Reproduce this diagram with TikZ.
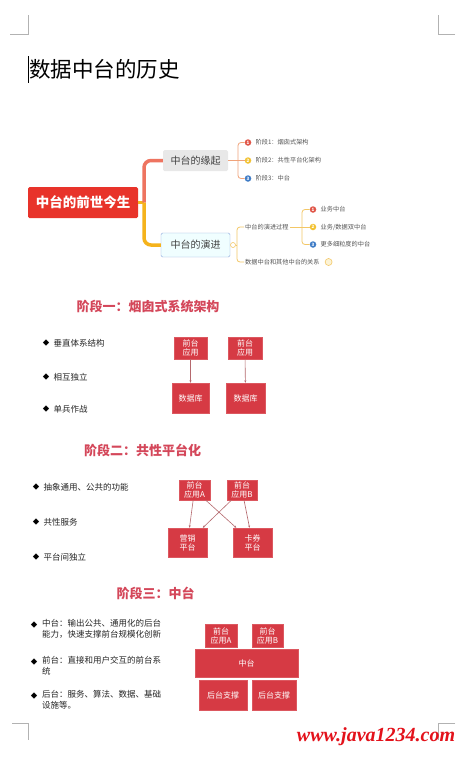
\documentclass[tikz,border=0pt]{standalone}
\usepackage{fontspec}
\setmainfont{Noto Sans CJK SC}
\newfontfamily\wmfont{Liberation Serif}
\usepackage{tikz}
\usetikzlibrary{arrows.meta, positioning}
\definecolor{boxred}{HTML}{D63A44}
\definecolor{titlered}{HTML}{D4475A}
\definecolor{rootred}{HTML}{E8332A}
\definecolor{salmon}{HTML}{EE7460}
\definecolor{amber}{HTML}{F5B31C}
\definecolor{bracketA}{HTML}{F0A37A}
\definecolor{bracketB}{HTML}{F3C766}
\definecolor{dotred}{HTML}{E05548}
\definecolor{dotyellow}{HTML}{F2C232}
\definecolor{dotblue}{HTML}{3F7CC6}
\definecolor{leafgrey}{HTML}{555555}

\begin{document}
\begin{tikzpicture}[x=1pt, y=-1pt,
    redbox/.style={draw=boxred!85!white, fill=boxred, text=white, inner sep=0pt, align=center, font=\fontsize{8}{9}\selectfont},
    rootbox/.style={fill=rootred, text=white, rounded corners=1.5pt, minimum width=110pt, minimum height=31pt, font=\fontsize{13.5}{14}\selectfont\bfseries},
    greybox/.style={fill=black!9, text=black!75, rounded corners=1.5pt, minimum width=65pt, minimum height=21pt, font=\fontsize{10}{11}\selectfont},
    bluebox/.style={fill=blue!4!cyan!6, draw=cyan!45!blue!45, text=black!75, rounded corners=1.5pt, minimum width=69pt, minimum height=24pt, font=\fontsize{10}{11}\selectfont},
    limb/.style={line width=3.5pt, rounded corners=7pt},
    twig/.style={line width=0.8pt, rounded corners=3pt},
    dot/.style={circle, inner sep=0pt, minimum size=6.5pt, text=white, font=\fontsize{4.5}{4.5}\selectfont\bfseries},
    leaf/.style={text=leafgrey, inner sep=1pt, font=\fontsize{6.2}{7}\selectfont},
    knob/.style={circle, draw=bracketB, fill=white, inner sep=0pt, minimum size=5pt, line width=0.6pt},
    stagetitle/.style={text=titlered, font=\fontsize{13}{14}\selectfont\bfseries},
    bullet/.style={inner sep=0pt, font=\fontsize{6.5}{7}\selectfont},
    point/.style={inner sep=0pt, align=left, text=black!85, font=\fontsize{8.5}{10.5}\selectfont},
    link/.style={draw=boxred!70!black!70, line width=0.6pt, -{Stealth[length=2.5pt, width=2pt]}},
    cornermark/.style={draw=black!30, line width=0.6pt}]

  \useasboundingbox[fill=white] (0,0) rectangle (474,758);

  % page corners
  \draw[cornermark] (10,34) -- (28,34) -- (28,15);
  \draw[cornermark] (455,34) -- (438,34) -- (438,15);
  \draw[cornermark] (12,723) -- (28,723) -- (28,740);
  \draw[cornermark] (455,723) -- (438,723) -- (438,740);

  % heading
  \draw[line width=0.8pt] (28,56) -- (28,83);
  \node[anchor=west, inner sep=0pt, font=\fontsize{21.5}{22}\selectfont] (title) at (29,69.5) {数据中台的历史};

  % mind map
  \node[rootbox] (root) at (83,202.5) {中台的前世今生};
  \node[greybox] (yuanqi) at (195.5,160.5) {中台的缘起};
  \node[bluebox] (yanjin) at (195.5,245) {中台的演进};
  \coordinate (trunk) at (144,202.5);
  \draw[limb, amber] (root.east) -- (trunk);
  \draw[limb, salmon] (trunk) |- (yuanqi.west);
  \draw[limb, amber] (trunk) |- (yanjin.west);

  \node[dot, fill=dotred] (y1) at (248,142.5) {1};
  \node[dot, fill=dotyellow] (y2) at (248,160.5) {2};
  \node[dot, fill=dotblue] (y3) at (248,178.5) {3};
  \node[leaf, right=3pt of y1] (y1t) {阶段1：烟囱式架构};
  \node[leaf, right=3pt of y2] (y2t) {阶段2：共性平台化架构};
  \node[leaf, right=3pt of y3] (y3t) {阶段3：中台};
  \coordinate (yj) at (238,160.5);
  \draw[twig, bracketA] (yuanqi.east) -- (yj);
  \draw[twig, bracketA] (yj) |- (y1);
  \draw[twig, bracketA] (yj) |- (y3);
  \draw[twig, bracketA] (yj) -- (y2);

  \node[knob] (yk) at (233,245) {};
  \coordinate (yjj) at (237,245);
  \node[leaf, anchor=west] (proc) at (244,227) {中台的演进过程};
  \node[leaf, anchor=west] (rel) at (244,262) {数据中台和其他中台的关系};
  \node[knob, minimum size=7pt, fill=dotyellow!20, right=4pt of rel] (relk) {};
  \draw[twig, bracketB] (yk) -- (yjj);
  \draw[twig, bracketB] (yjj) |- (proc.west);
  \draw[twig, bracketB] (yjj) |- (rel.west);

  \node[dot, fill=dotred] (p1) at (313,209.5) {1};
  \node[dot, fill=dotyellow] (p2) at (313,227) {2};
  \node[dot, fill=dotblue] (p3) at (313,244.5) {3};
  \node[leaf, right=3pt of p1] (p1t) {业务中台};
  \node[leaf, right=3pt of p2] (p2t) {业务/数据双中台};
  \node[leaf, right=3pt of p3] (p3t) {更多细粒度的中台};
  \coordinate (pj) at (302,227);
  \draw[twig, bracketB] (proc.east) -- (pj);
  \draw[twig, bracketB] (pj) |- (p1);
  \draw[twig, bracketB] (pj) |- (p3);
  \draw[twig, bracketB] (pj) -- (p2);

  % stage 1
  \node[stagetitle] (st1) at (148,307) {阶段一：烟囱式系统架构};
  \node[bullet] (s1b1) at (46,343) {◆};
  \node[point, right=4pt of s1b1] (s1t1) {垂直体系结构};
  \node[bullet] (s1b2) at (46,377) {◆};
  \node[point, right=4pt of s1b2] (s1t2) {相互独立};
  \node[bullet] (s1b3) at (46,409) {◆};
  \node[point, right=4pt of s1b3] (s1t3) {单兵作战};

  \node[redbox, minimum width=33pt, minimum height=22pt] (app1) at (190.5,348) {前台\\应用};
  \node[redbox, minimum width=34pt, minimum height=22pt] (app2) at (245,348) {前台\\应用};
  \node[redbox, minimum width=37pt, minimum height=30pt] (db1) at (190.5,398) {数据库};
  \node[redbox, minimum width=39pt, minimum height=30pt] (db2) at (245.5,398) {数据库};
  \draw[link] (app1) -- (db1);
  \draw[link] (app2) -- (db2);

  % stage 2
  \node[stagetitle] (st2) at (142.5,450) {阶段二：共性平台化};
  \node[bullet] (s2b1) at (36,487) {◆};
  \node[point, right=4pt of s2b1] (s2t1) {抽象通用、公共的功能};
  \node[bullet] (s2b2) at (36,522) {◆};
  \node[point, right=4pt of s2b2] (s2t2) {共性服务};
  \node[bullet] (s2b3) at (36,557) {◆};
  \node[point, right=4pt of s2b3] (s2t3) {平台间独立};

  \node[redbox, minimum width=31pt, minimum height=20pt] (appA) at (194.5,490) {前台\\应用A};
  \node[redbox, minimum width=30pt, minimum height=20pt] (appB) at (242,490) {前台\\应用B};
  \node[redbox, minimum width=39pt, minimum height=29pt] (mkt) at (187.5,542.5) {营销\\平台};
  \node[redbox, minimum width=39pt, minimum height=29pt] (coupon) at (252.5,542.5) {卡券\\平台};
  \draw[link] (appA) -- (mkt);
  \draw[link] (appA) -- (coupon);
  \draw[link] (appB) -- (mkt);
  \draw[link] (appB) -- (coupon);

  % stage 3
  \node[stagetitle] (st3) at (155.5,593) {阶段三：中台};
  \node[bullet] (s3b1) at (34,625) {◆};
  \node[point, anchor=north west] (s3t1) at (42,619.5) {中台：输出公共、通用化的后台\\能力，快速支撑前台规模化创新};
  \node[bullet] (s3b2) at (34,662) {◆};
  \node[point, anchor=north west] (s3t2) at (42,656.5) {前台：直接和用户交互的前台系\\统};
  \node[bullet] (s3b3) at (34,696) {◆};
  \node[point, anchor=north west] (s3t3) at (42,690.5) {后台：服务、算法、数据、基础\\设施等。};

  \node[redbox, minimum width=32pt, minimum height=23pt] (frontA) at (221,635.5) {前台\\应用A};
  \node[redbox, minimum width=31pt, minimum height=23pt] (frontB) at (267.5,635.5) {前台\\应用B};
  \node[redbox, minimum width=103pt, minimum height=28pt] (mid) at (246.5,663) {中台};
  \node[redbox, minimum width=48pt, minimum height=30pt] (back1) at (223,695) {后台支撑};
  \node[redbox, minimum width=44pt, minimum height=30pt] (back2) at (274,695) {后台支撑};

  % watermark
  \node[text={rgb,255:red,227;green,18;blue,27}, inner sep=0pt, font=\wmfont\bfseries\itshape\fontsize{20}{20}\selectfont] (wm) at (376,737) {www.java1234.com};
\end{tikzpicture}
\end{document}
